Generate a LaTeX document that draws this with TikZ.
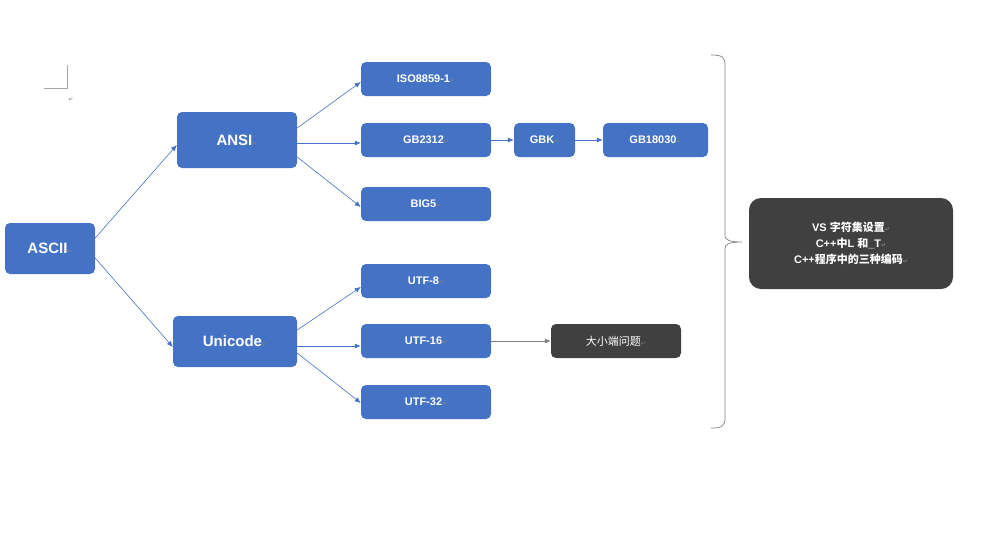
\documentclass[tikz,border=0pt]{standalone}
\usepackage{fontspec}
\setmainfont{Liberation Sans}
\newfontfamily\cjk{Noto Sans CJK SC}
\newfontfamily\dv{DejaVu Sans}
\usetikzlibrary{arrows.meta}
\definecolor{bl}{HTML}{4472C4}
\definecolor{dk}{HTML}{404040}
\newcommand{\parmk}{{\color{gray}\dv\fontsize{6}{6}\selectfont ↵}}
\begin{document}
\begin{tikzpicture}[x=1pt,y=-1pt,
  b/.style={fill=bl,rounded corners=5pt,text=white,font=\bfseries\fontsize{11}{13}\selectfont,inner sep=0pt,align=center},
  big/.style={b,font=\bfseries\fontsize{15}{17}\selectfont},
  d/.style={fill=dk,rounded corners=5pt,text=white,inner sep=0pt,align=center},
  a/.style={draw=bl,-{Latex[length=6pt,width=5pt]},line width=0.6pt}]
\useasboundingbox (0,0) rectangle (983,547);
\node[big,minimum width=90,minimum height=51] (ascii) at (50,248.5) {ASCII\parmk};
\node[big,minimum width=120,minimum height=56] (ansi) at (237,140) {ANSI\parmk};
\node[big,minimum width=124,minimum height=51] (uni) at (235,341.5) {Unicode\parmk};
\node[b,minimum width=130,minimum height=34] (iso) at (426,79) {ISO8859-1\parmk};
\node[b,minimum width=130,minimum height=34] (gb) at (426,140) {GB2312\parmk};
\node[b,minimum width=130,minimum height=34] (big5) at (426,204) {BIG5\parmk};
\node[b,minimum width=130,minimum height=34] (u8) at (426,281) {UTF-8\parmk};
\node[b,minimum width=130,minimum height=34] (u16) at (426,341) {UTF-16\parmk};
\node[b,minimum width=130,minimum height=34] (u32) at (426,402) {UTF-32\parmk};
\node[b,minimum width=61,minimum height=34] (gbk) at (544.5,140) {GBK\parmk};
\node[b,minimum width=105,minimum height=34] (gb18) at (655.5,140) {GB18030\parmk};
\node[d,minimum width=130,minimum height=34,font=\cjk\fontsize{11}{13}\selectfont] (end) at (616,341) {大小端问题\parmk};
\node[d,minimum width=204,minimum height=91,rounded corners=12pt,font=\bfseries\fontsize{11}{16}\selectfont] (vs) at (851,243.5)
 {VS {\cjk\bfseries 字符集设置}\parmk\\C++{\cjk\bfseries 中}L {\cjk\bfseries 和}\_T\parmk\\C++{\cjk\bfseries 程序中的三种编码}\parmk};
\draw[a] (ascii.east|-0,238) -- (ansi.west|-0,145);
\draw[a] (ascii.east|-0,258) -- (uni.west|-0,347);
\draw[a] (ansi.east|-0,128) -- (iso.west|-0,82);
\draw[a] (ansi.east|-0,143) -- (gb.west|-0,143);
\draw[a] (ansi.east|-0,157) -- (big5.west|-0,207);
\draw[a] (uni.east|-0,330) -- (u8.west|-0,287);
\draw[a] (uni.east|-0,346) -- (u16.west|-0,346);
\draw[a] (uni.east|-0,353) -- (u32.west|-0,403);
\draw[a] (gb) -- (gbk);
\draw[a] (gbk) -- (gb18);
\draw[draw=gray,-{Latex[length=6pt,width=5pt]},line width=0.6pt] (u16) -- (end);
\coordinate (bt) at (711,55); \coordinate (bb) at (711,428); \coordinate (tip) at (742,242);
\draw[gray,line width=0.7pt] (bt) .. controls (722,55) and (725,57) .. (725,65) -- (725,236) .. controls (725,240) and (730,242) .. (tip)
  (tip) .. controls (730,242) and (725,244) .. (725,248) -- (725,418) .. controls (725,426) and (722,428) .. (bb);
\coordinate (c1) at (44,88); \coordinate (c2) at (67,88); \coordinate (c3) at (67,65);
\draw[gray!70,line width=0.6pt] (c1) -- (c2) -- (c3);
\node[inner sep=0pt] (pm0) at (71,100) {\parmk};
\end{tikzpicture}
\end{document}
